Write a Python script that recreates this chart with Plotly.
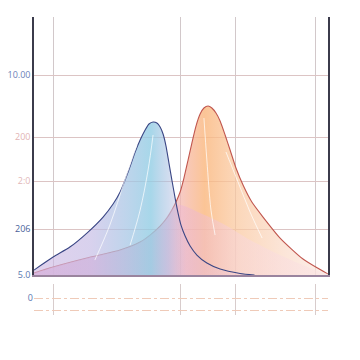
import plotly.graph_objects as go

# ---- data ----
blue_x = [0, 6.5, 12.2, 18.0, 23.5, 26.9, 29.3, 32.0, 34.4, 36.1, 37.8, 39.1, 40.5,
          41.8, 42.9, 43.9, 44.9, 45.9, 46.9, 48.0, 49.0, 50.0, 51.4, 53.1, 55.4, 58.8, 63.3, 70.1, 75.0]
blue_y = [0.25, 0.9, 1.4, 2.1, 2.9, 3.55, 4.15, 5.15, 6.15, 6.75, 7.25, 7.55, 7.65,
          7.6, 7.4, 7.05, 6.45, 5.6, 4.75, 3.85, 3.1, 2.5, 1.95, 1.45, 1.0, 0.6, 0.3, 0.08, 0.0]

orange_x = [0, 6.5, 18.0, 22.4, 29.3, 36.1, 39.5, 42.9, 45.2, 46.9, 48.3, 49.7, 51.0, 52.4, 53.7,
            55.1, 56.5, 57.8, 59.2, 60.5, 61.9, 63.3, 65.0, 66.7, 68.7, 71.1, 74.1, 77.9, 83.7, 91.5, 100]
orange_y = [0.1, 0.4, 0.85, 1.0, 1.25, 1.65, 2.0, 2.45, 2.85, 3.25, 3.65, 4.15, 4.85, 5.75, 6.6,
            7.45, 8.05, 8.35, 8.45, 8.35, 8.1, 7.7, 7.0, 6.25, 5.35, 4.5, 3.65, 2.9, 1.85, 0.8, 0.05]

pink_x = [0, 6.5, 18.0, 29.3, 36.1, 42.9, 48.6, 56.5, 65.0, 73.5, 83.7, 93.9, 100]
pink_y = [0.1, 0.4, 0.85, 1.25, 1.65, 2.45, 3.5, 3.1, 2.5, 1.75, 1.0, 0.35, 0.05]

hl1_x = [20.7, 25.8, 30.9, 35.0]
hl1_y = [0.75, 2.5, 4.75, 6.5]
hl2_x = [32.7, 36.1, 38.8, 40.5]
hl2_y = [1.5, 3.25, 5.25, 7.0]
hl3_x = [57.8, 58.8, 60.2, 61.6]
hl3_y = [7.85, 5.75, 3.25, 2.0]
hl4_x = [65.3, 69.4, 73.5, 77.6]
hl4_y = [6.15, 4.65, 3.15, 1.85]

grid_x = [6.5, 49.7, 68.4, 95.6]
y_tickvals = [0, 2.3, 4.7, 6.9, 10.0]
y_ticklabels = ["5.0", "206", "2:0", "200", "10.00"]
y_tickcolors = ["#5a78b0", "#4a5f9a", "#e2b8b8", "#e2b4b4", "#6b7fb8"]
low_tickvals = [0, -1.3]
low_ticklabels = ["0", ""]

fig = go.Figure()

fig.add_trace(go.Scatter(
    x=orange_x, y=orange_y, mode="lines",
    line=dict(color="#c0564e", width=1.1, shape="spline", smoothing=0.6),
    fill="tozeroy",
    fillgradient=dict(type="horizontal", start=0, stop=100, colorscale=[
        [0.0, "rgba(230,180,215,0.7)"],
        [0.45, "rgba(238,185,210,0.7)"],
        [0.52, "rgba(246,182,160,0.75)"],
        [0.58, "rgba(250,182,124,0.8)"],
        [0.68, "rgba(250,198,155,0.72)"],
        [0.85, "rgba(250,215,195,0.65)"],
        [1.0, "rgba(250,228,220,0.6)"],
    ]),
    hoverinfo="skip"))

fig.add_trace(go.Scatter(
    x=pink_x, y=pink_y, mode="lines",
    line=dict(color="rgba(0,0,0,0)", width=0, shape="spline", smoothing=0.8),
    fill="tozeroy",
    fillgradient=dict(type="horizontal", start=0, stop=100, colorscale=[
        [0.0, "rgba(232,178,212,0.45)"],
        [0.55, "rgba(236,182,212,0.45)"],
        [0.70, "rgba(248,214,222,0.5)"],
        [1.0, "rgba(250,226,226,0.5)"],
    ]),
    hoverinfo="skip"))

fig.add_trace(go.Scatter(
    x=blue_x, y=blue_y, mode="lines",
    line=dict(color="#3a4684", width=1.1, shape="spline", smoothing=0.6),
    fill="tozeroy",
    fillgradient=dict(type="horizontal", start=0, stop=75, colorscale=[
        [0.0, "rgba(205,180,225,0.6)"],
        [0.26, "rgba(195,185,228,0.65)"],
        [0.42, "rgba(165,196,228,0.72)"],
        [0.53, "rgba(145,205,228,0.8)"],
        [0.61, "rgba(170,192,226,0.55)"],
        [0.69, "rgba(225,188,218,0.3)"],
        [1.0, "rgba(232,188,214,0.2)"],
    ]),
    hoverinfo="skip"))

for hx, hy in [(hl1_x, hl1_y), (hl2_x, hl2_y), (hl3_x, hl3_y), (hl4_x, hl4_y)]:
    fig.add_trace(go.Scatter(
        x=hx, y=hy, mode="lines",
        line=dict(color="rgba(255,255,255,0.7)", width=1, shape="spline"),
        hoverinfo="skip"))

# invisible trace for the lower strip
fig.add_trace(go.Scatter(x=[0, 100], y=[0, 0], mode="lines",
                         line=dict(color="rgba(0,0,0,0)"), xaxis="x2", yaxis="y2",
                         hoverinfo="skip"))

ticktext = [f'<span style="color:{c}">{t}</span>' for t, c in zip(y_ticklabels, y_tickcolors)]

fig.update_layout(
    width=360, height=360,
    margin=dict(l=26, r=40, t=9, b=53, autoexpand=False),
    paper_bgcolor="white", plot_bgcolor="white",
    showlegend=False,
    font=dict(family="Open Sans, sans-serif", size=9),
    xaxis=dict(domain=[0, 1], anchor="y", range=[0, 100], tickvals=grid_x,
               showticklabels=False, showgrid=True, gridcolor="#d2c8ca", gridwidth=1,
               zeroline=False, showline=True, linecolor="#9a849e", linewidth=2, ticks=""),
    yaxis=dict(domain=[0.134, 1], anchor="x", range=[0, 12.9], tickvals=y_tickvals,
               ticktext=ticktext, showgrid=True, gridcolor="#dcc4c4", gridwidth=1,
               zeroline=False, showline=True, mirror=True, linecolor="#3b3b4b",
               linewidth=1.5, ticks=""),
    xaxis2=dict(domain=[0, 1], anchor="y2", range=[0, 100], tickvals=grid_x,
                showticklabels=False, showgrid=True, gridcolor="#d8cccc",
                zeroline=False, showline=False, ticks=""),
    yaxis2=dict(domain=[0, 0.104], anchor="x2", range=[-1.7, 1.4], tickvals=low_tickvals,
                ticktext=[f'<span style="color:#5a78b0">{t}</span>' for t in low_ticklabels],
                showgrid=True, gridcolor="#efcab8", griddash="dashdot", gridwidth=1,
                zeroline=False, showline=False, ticks=""),
)

fig.write_html("out.html")
